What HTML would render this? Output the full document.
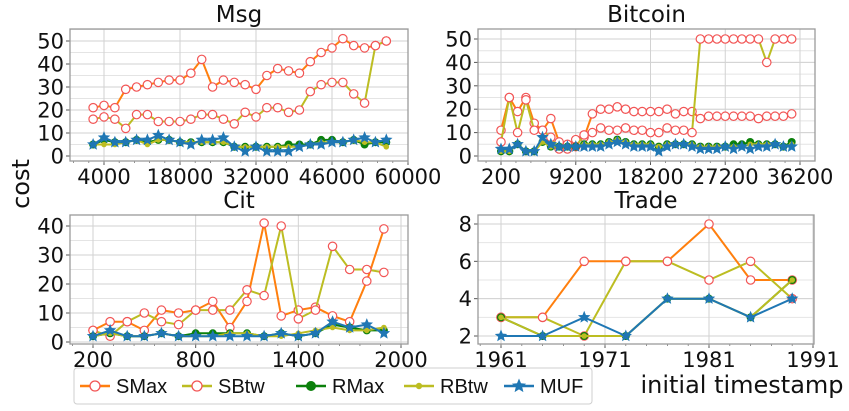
<!DOCTYPE html>
<html><head><meta charset="utf-8">
<style>
html,body{margin:0;padding:0;background:#fff;}
svg{display:block;font-family:"DejaVu Sans","Liberation Sans",sans-serif;}
</style></head>
<body>
<svg id="fig" width="849" height="411" viewBox="0 0 849 411"></svg>
<script>
// ---------- data ----------
const msgX = [2000,4000,6000,8000,10000,12000,14000,16000,18000,20000,22000,24000,26000,28000,30000,32000,34000,36000,38000,40000,42000,44000,46000,48000,50000,52000,54000,56000];
const msgSMax = [21,22,21,29,30,31,32,33,33,36,42,30,33,32,31,29,35,38,37,36,41,45,47,51,48,47,48,50];
const msgSBtw = [16,17,16,12,18,18,15,15,15,16,18,18,16,14,19,17,21,21,19,20,28,31,32,32,27,23,48,50];
const msgRMax = [5,7,6,6,7,6,7,7,6,6,6,6,6,4,4,4,4,4,5,5,5,7,7,6,7,5,6,6];
const msgRBtw = [5,5,5,6,7,5,7,7,6,6,6,6,6,4,4,4,4,4,4,4,5,6,6,6,7,6,6,4];
const msgMUF = [5,8,6,6,7,7,9,7,6,5,7,7,8,4,2,4,2,2,2,4,5,5,6,6,7,8,6,7];

const btcX = [200,1200,2200,3200,4200,5200,6200,7200,8200,9200,10200,11200,12200,13200,14200,15200,16200,17200,18200,19200,20200,21200,22200,23200,24200,25200,26200,27200,28200,29200,30200,31200,32200,33200,34200,35200];
const btcSMax = [11,25,19,25,14,11,16,6,5,7,8,18,20,20,21,20,19,19,19,19,20,18,19,19,16,17,17,17,17,17,17,16,17,17,17,18];
const btcSBtw = [6,25,10,24,11,11,8,3,3,4,9,10,12,11,11,12,11,11,10,10,12,11,11,10,50,50,50,50,50,50,50,50,40,50,50,50];
const btcRMax = [2,2,5,2,2,6,4,4,4,4,5,5,5,6,7,6,5,5,5,4,5,5,5,5,4,4,4,4,5,5,6,5,5,5,4,6];
const btcRBtw = [2,2,5,2,2,6,4,4,4,4,5,5,5,6,7,6,5,5,5,4,5,5,5,5,4,4,4,4,4,4,5,5,5,5,4,5];
const btcMUF = [3,3,5,2,2,8,5,4,4,4,4,4,4,5,6,5,4,4,4,2,4,5,5,4,3,3,3,4,3,4,3,4,4,5,4,4];

const citX = [200,300,400,500,600,700,800,900,1000,1100,1200,1300,1400,1500,1600,1700,1800,1900];
const citSMax = [4,7,7,4,11,10,11,14,5,14,41,9,11,12,9,7,21,39];
const citSBtw = [4,2,7,10,7,6,11,11,11,18,16,40,8,11,33,25,25,24];
const citRMax = [2,3,2,2,3,2,3,3,3,3,2,3,2,3,6,5,4,4];
const citRBtw = [2,3,2,2,3,2,2,2,3,3,2,2,3,4,5,4,4,5];
const citMUF = [2,4,2,2,3,2,2,2,2,2,2,3,2,3,7,5,6,3];

const trX = [1961,1965,1969,1973,1977,1981,1985,1989];
const trSMax = [3,3,6,6,6,8,5,5];
const trSBtw = [3,3,2,6,6,5,6,4];
const trRMax = [3,2,2,2,4,4,3,5];
const trRBtw = [3,2,2,2,4,4,3,5];
const trMUF = [2,2,3,2,4,4,3,4];

const msgXTicks = [4000,18000,32000,46000,60000];
const msgYTicks = [0,10,20,30,40,50];
const btcXTicks = [200,9200,18200,27200,36200];
const btcYTicks = [0,10,20,30,40,50];
const citXTicks = [200,800,1400,2000];
const citYTicks = [0,10,20,30,40];
const trXTicks = [1961,1971,1981,1991];
const trYTicks = [2,4,6,8];

// ---------- drawing ----------
const NS = "http://www.w3.org/2000/svg";
const svg = document.getElementById('fig');
function mk(tag, attrs, parent){
  const e = document.createElementNS(NS, tag);
  for (const k in attrs) e.setAttribute(k, attrs[k]);
  (parent||svg).appendChild(e);
  return e;
}
const C = {smax:'#ff7f0e', sbtw:'#bcbd22', rmax:'#0b800b', rbtw:'#bcbd22', muf:'#1f77b4', mk:'#f25555'};

function starPts(cx, cy, R){
  const r = R*0.45, p=[];
  for(let i=0;i<10;i++){
    const a = -Math.PI/2 + i*Math.PI/5, rr = i%2?r:R;
    p.push((cx+rr*Math.cos(a)).toFixed(1)+','+(cy+rr*Math.sin(a)).toFixed(1));
  }
  return p.join(' ');
}

function panel(o){
  const g = mk('g', {});
  
  
  const sx = v => o.xp0 + (v-o.xv0)*(o.xp1-o.xp0)/(o.xv1-o.xv0);
  const sy = v => o.yp0 + (v-o.yv0)*(o.yp1-o.yp0)/(o.yv1-o.yv0);
  const b = o.box;
  // minor y grid
  for (let v=o.yMinorStart; v<=o.yMinorEnd+1e-9; v+=o.yMinor){
    const y = sy(v);
    if (y<b.t||y>b.b) continue;
    const l = mk('line',{x1:b.l,x2:b.r,y1:y,y2:y,stroke:'#e4e4e4','stroke-width':1},g);
    
    
  }
  // major grids
  o.yticks.forEach(v=>{
    const y = sy(v);
    const l = mk('line',{x1:b.l,x2:b.r,y1:y,y2:y,stroke:'#d2d2d2','stroke-width':1},g);
    
    
    mk('line',{x1:b.l-4,x2:b.l,y1:y,y2:y,stroke:'#555','stroke-width':1},g);
    const t = mk('text',{x:b.l-6,y:y+7.5,'text-anchor':'end','font-size':21,fill:'#111'},g);
    t.textContent = v;
    
    
  });
  o.xticks.forEach(v=>{
    const x = sx(v);
    const l = mk('line',{x1:x,x2:x,y1:b.t,y2:b.b,stroke:'#d2d2d2','stroke-width':1},g);
    
    
    mk('line',{x1:x,x2:x,y1:b.b,y2:b.b+4,stroke:'#555','stroke-width':1},g);
    const t = mk('text',{x:x,y:b.b+23,'text-anchor':'middle','font-size':21,fill:'#111'},g);
    t.textContent = v;
    
    
  });
  // minor x ticks
  const step = (o.xticks[1]-o.xticks[0])/5;
  for (let v=o.xticks[0]-5*step; v<=o.xticks[o.xticks.length-1]+1e-9; v+=step){
    const x = sx(v);
    if (x<b.l||x>b.r) continue;
    mk('line',{x1:x,x2:x,y1:b.b,y2:b.b+2,stroke:'#777','stroke-width':0.8},g);
  }
  const fr = mk('rect',{x:b.l,y:b.t,width:b.r-b.l,height:b.b-b.t,fill:'none',stroke:'#9a9a9a','stroke-width':1.3},g);
  
  
  const tt = mk('text',{x:(b.l+b.r)/2,y:b.t-7,'text-anchor':'middle','font-size':23,fill:'#111'},g);
  tt.textContent = o.title;
  
  

  const series = [
    ['smax', o.s[0], C.smax, 'ocircle'],
    ['sbtw', o.s[1], C.sbtw, 'ocircle'],
    ['rmax', o.s[2], C.rmax, 'dot'],
    ['rbtw', o.s[3], C.rbtw, 'sdot'],
    ['muf',  o.s[4], C.muf, 'star']
  ];
  series.forEach(([key, ys, col, m])=>{
    const sg = mk('g',{},g);
    
    
    const pts = ys.map((v,i)=>sx(o.x[i]).toFixed(1)+','+sy(v).toFixed(1)).join(' ');
    const pl = mk('polyline',{points:pts,fill:'none',stroke:col,'stroke-width':2},sg);
    
    
    ys.forEach((v,i)=>{
      const cx = sx(o.x[i]), cy = sy(v);
      let e;
      if (m==='ocircle') e = mk('circle',{cx:cx,cy:cy,r:4.2,fill:'#fff',stroke:C.mk,'stroke-width':1.2},sg);
      else if (m==='dot') e = mk('circle',{cx:cx,cy:cy,r:4,fill:col},sg);
      else if (m==='sdot') e = mk('circle',{cx:cx,cy:cy,r:2.8,fill:col},sg);
      else e = mk('polygon',{points:starPts(cx,cy,6.5),fill:col},sg);
      
      
    });
  });
}

panel({name:'msg',title:'Msg',box:{l:70,r:408,t:29,b:161},
  xv0:4000,xp0:104,xv1:18000,xp1:180,yv0:0,yp0:156,yv1:50,yp1:41,
  xticks:msgXTicks,yticks:msgYTicks,yMinor:5,yMinorStart:-5,yMinorEnd:55,
  x:msgX,s:[msgSMax,msgSBtw,msgRMax,msgRBtw,msgMUF]});
panel({name:'bitcoin',title:'Bitcoin',box:{l:478,r:815,t:29,b:161},
  xv0:200,xp0:501,xv1:36200,xp1:800,yv0:0,yp0:156,yv1:50,yp1:39,
  xticks:btcXTicks,yticks:btcYTicks,yMinor:5,yMinorStart:-5,yMinorEnd:55,
  x:btcX,s:[btcSMax,btcSBtw,btcRMax,btcRBtw,btcMUF]});
panel({name:'cit',title:'Cit',box:{l:70,r:408,t:215,b:344},
  xv0:200,xp0:93,xv1:2000,xp1:401,yv0:0,yp0:342,yv1:40,yp1:226,
  xticks:citXTicks,yticks:citYTicks,yMinor:5,yMinorStart:-5,yMinorEnd:45,
  x:citX,s:[citSMax,citSBtw,citRMax,citRBtw,citMUF]});
panel({name:'trade',title:'Trade',box:{l:478,r:814,t:215,b:344},
  xv0:1961,xp0:501,xv1:1991,xp1:813,yv0:2,yp0:336,yv1:8,yp1:224,
  xticks:trXTicks,yticks:trYTicks,yMinor:1,yMinorStart:1,yMinorEnd:9,
  x:trX,s:[trSMax,trSBtw,trRMax,trRBtw,trMUF]});

// y label
const yl = mk('text',{x:0,y:0,'text-anchor':'middle','font-size':24,fill:'#111',transform:'translate(29,184) rotate(-90)'});
yl.textContent = 'cost';


const xl = mk('text',{x:742,y:393,'text-anchor':'middle','font-size':24,fill:'#111'});
xl.textContent = 'initial timestamp';



// legend
const lg = mk('g',{});


mk('rect',{x:74,y:368,width:518,height:36,rx:3,fill:'#fff',stroke:'#cfcfcf','stroke-width':1},lg);
const leg = [['SMax',C.smax,'ocircle',80],['SBtw',C.sbtw,'ocircle',182],['RMax',C.rmax,'dot',296],['RBtw',C.rbtw,'sdot',404],['MUF',C.muf,'star',504]];
leg.forEach(([lab,col,m,x0])=>{
  const eg = mk('g',{},lg);
  
  
  const cy = 386;
  mk('line',{x1:x0,x2:x0+30,y1:cy,y2:cy,stroke:col,'stroke-width':2.5},eg);
  const cx = x0+15;
  if (m==='ocircle') mk('circle',{cx:cx,cy:cy,r:5,fill:'#fff',stroke:C.mk,'stroke-width':1.3},eg);
  else if (m==='dot') mk('circle',{cx:cx,cy:cy,r:5,fill:col},eg);
  else if (m==='sdot') mk('circle',{cx:cx,cy:cy,r:3.2,fill:col},eg);
  else mk('polygon',{points:starPts(cx,cy,7.5),fill:col},eg);
  const t = mk('text',{x:x0+36,y:cy+7,'font-size':20,fill:'#111','font-family':'"Liberation Sans",sans-serif'},eg);
  t.textContent = lab;
});
</script>
</body></html>
